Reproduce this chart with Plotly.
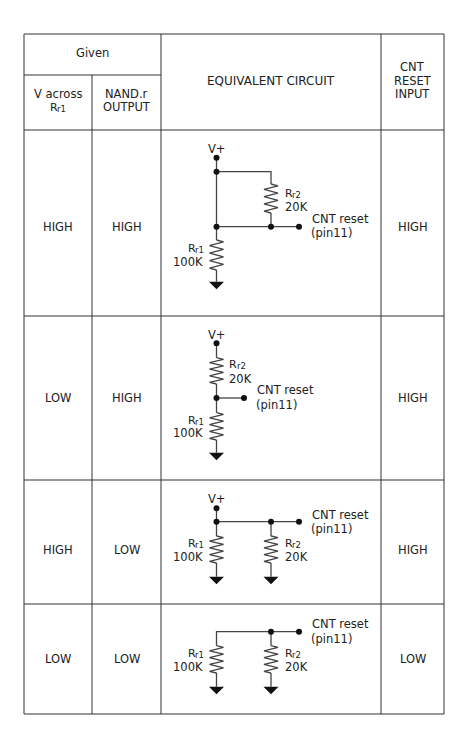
import plotly.graph_objects as go

# table contents
header_given = 'Given'
header_cols = ['V across', 'NAND.r']
header_cols2 = ['', 'OUTPUT']
header_circuit = 'EQUIVALENT CIRCUIT'
header_cnt = ['CNT', 'RESET', 'INPUT']
v_across = ['HIGH', 'LOW', 'HIGH', 'LOW']
nand_output = ['HIGH', 'HIGH', 'LOW', 'LOW']
cnt_input = ['HIGH', 'HIGH', 'HIGH', 'LOW']

# table grid, page pixels
col_x = [24, 92, 161, 381, 444]
row_y = [34, 75, 130, 316, 480, 604, 714]
row_mid = [227, 398, 550, 659]

FONT = 'DejaVu Sans'
INK = '#222222'
WIRE = '#444444'
LEFT_X = 216.5
RIGHT_X = 271
OUT_X = 299

fig = go.Figure()
wire_x, wire_y = [], []
res_x, res_y = [], []
dot_x, dot_y = [], []


def wire(*pts):
    for p in pts:
        wire_x.append(p[0])
        wire_y.append(p[1])
    wire_x.append(None)
    wire_y.append(None)


def resistor(x, y0, y1):
    # zigzag, four teeth each side
    n = 8
    step = (y1 - y0) / n
    res_x.append(x)
    res_y.append(y0)
    for i in range(n):
        res_x.append(x + (7 if i % 2 == 0 else -7))
        res_y.append(y0 + step * (i + 0.5))
    res_x.append(x)
    res_y.append(y1)
    res_x.append(None)
    res_y.append(None)


def dots(*pts):
    for p in pts:
        dot_x.append(p[0])
        dot_y.append(p[1])


def ground(x, y):
    fig.add_shape(type='path', path=f'M {x-7.5} {y} L {x+7.5} {y} L {x} {y+7.5} Z',
                  fillcolor='#111111', line=dict(width=0))


def label(x, y, text, anchor='center', size=11.5):
    fig.add_annotation(x=x, y=y, text=text, showarrow=False, xanchor=anchor, yanchor='middle',
                       borderpad=0, borderwidth=0,
                       font=dict(family=FONT, size=size, color=INK))


def r_name(x, y, sub):
    # R with its small index, x is the left edge
    label(x, y, 'R', 'left', 11)
    label(x + 7.5, y + 1.5, sub, 'left', 8.5)


# grid
grid_x, grid_y = [], []
for y in [row_y[0], row_y[2], row_y[3], row_y[4], row_y[5], row_y[6]]:
    grid_x += [col_x[0], col_x[4], None]
    grid_y += [y, y, None]
grid_x += [col_x[0], col_x[2], None]
grid_y += [row_y[1], row_y[1], None]
for x in [col_x[0], col_x[2], col_x[3], col_x[4]]:
    grid_x += [x, x, None]
    grid_y += [row_y[0], row_y[6], None]
grid_x += [col_x[1], col_x[1], None]
grid_y += [row_y[1], row_y[6], None]

# circuit 1
wire((LEFT_X, 157.7), (LEFT_X, 240))
wire((LEFT_X, 171.7), (RIGHT_X, 171.7), (RIGHT_X, 184))
wire((RIGHT_X, 213), (RIGHT_X, 226.7))
wire((LEFT_X, 226.7), (OUT_X, 226.7))
wire((LEFT_X, 270), (LEFT_X, 281.7))
resistor(RIGHT_X, 184, 213)
resistor(LEFT_X, 240, 270)
ground(LEFT_X, 281.7)
dots((LEFT_X, 157.7), (LEFT_X, 171.7), (LEFT_X, 226.7), (RIGHT_X, 226.7), (OUT_X, 226.7))
label(LEFT_X, 148.5, 'V+')
r_name(284.5, 193.3, 'r2')
label(284.5, 207.3, '20K', 'left')
r_name(187.5, 248, 'r1')
label(203, 262, '100K', 'right')
label(312, 219, 'CNT reset', 'left')
label(311, 233, '(pin11)', 'left')

# circuit 2
wire((LEFT_X, 343.3), (LEFT_X, 357.7))
wire((LEFT_X, 384), (LEFT_X, 412.7))
wire((LEFT_X, 398), (244, 398))
wire((LEFT_X, 440), (LEFT_X, 452.7))
resistor(LEFT_X, 357.7, 384)
resistor(LEFT_X, 412.7, 440)
ground(LEFT_X, 452.7)
dots((LEFT_X, 343.3), (LEFT_X, 398), (244, 398))
label(LEFT_X, 334.5, 'V+')
r_name(229, 364.3, 'r2')
label(229, 378.7, '20K', 'left')
r_name(187.5, 420, 'r1')
label(203, 433.3, '100K', 'right')
label(257, 390, 'CNT reset', 'left')
label(256, 405, '(pin11)', 'left')

# circuit 3
wire((LEFT_X, 508.3), (LEFT_X, 536))
wire((LEFT_X, 521.7), (OUT_X, 521.7))
wire((RIGHT_X, 521.7), (RIGHT_X, 536))
wire((LEFT_X, 563), (LEFT_X, 576.7))
wire((RIGHT_X, 563), (RIGHT_X, 576.7))
resistor(LEFT_X, 536, 563)
resistor(RIGHT_X, 536, 563)
ground(LEFT_X, 576.7)
ground(RIGHT_X, 576.7)
dots((LEFT_X, 508.3), (LEFT_X, 521.7), (RIGHT_X, 521.7), (OUT_X, 521.7))
label(LEFT_X, 498.5, 'V+')
r_name(187.5, 543.3, 'r1')
label(203, 557.3, '100K', 'right')
r_name(284.5, 543.3, 'r2')
label(284.5, 557.3, '20K', 'left')
label(312, 515, 'CNT reset', 'left')
label(311, 529, '(pin11)', 'left')

# circuit 4
wire((LEFT_X, 645.7), (LEFT_X, 631.7), (OUT_X, 631.7))
wire((RIGHT_X, 631.7), (RIGHT_X, 645.7))
wire((LEFT_X, 673), (LEFT_X, 686.7))
wire((RIGHT_X, 673), (RIGHT_X, 686.7))
resistor(LEFT_X, 645.7, 673)
resistor(RIGHT_X, 645.7, 673)
ground(LEFT_X, 686.7)
ground(RIGHT_X, 686.7)
dots((RIGHT_X, 631.7), (OUT_X, 631.7))
r_name(187.5, 653.3, 'r1')
label(203, 667.3, '100K', 'right')
r_name(284.5, 653.3, 'r2')
label(284.5, 667.3, '20K', 'left')
label(312, 624, 'CNT reset', 'left')
label(311, 639, '(pin11)', 'left')

fig.add_trace(go.Scatter(x=grid_x, y=grid_y, mode='lines', line=dict(color='#333333', width=1), hoverinfo='skip'))
fig.add_trace(go.Scatter(x=wire_x, y=wire_y, mode='lines', line=dict(color=WIRE, width=1.3), hoverinfo='skip'))
fig.add_trace(go.Scatter(x=res_x, y=res_y, mode='lines', line=dict(color=WIRE, width=1.3), hoverinfo='skip'))
fig.add_trace(go.Scatter(x=dot_x, y=dot_y, mode='markers', marker=dict(color='#111111', size=6), hoverinfo='skip'))

# header text
label(92.5, 53, header_given)
col_mid = [58, 126.5]
for mid, top, bottom in zip(col_mid, header_cols, header_cols2):
    label(mid, 94, top)
    if bottom:
        label(mid, 107, bottom)
r_name(49.5, 107.5, 'r1')
label(271, 81, header_circuit, size=12)
for y, txt in zip([67, 81, 94], header_cnt):
    label(412.5, y, txt)

# body text
for i, y in enumerate(row_mid):
    label(col_mid[0], y, v_across[i])
    label(col_mid[1], y, nand_output[i])
    label(412.5, y, cnt_input[i])

fig.update_layout(width=474, height=739, margin=dict(l=0, r=0, t=0, b=0), showlegend=False,
                  plot_bgcolor='white', paper_bgcolor='white')
fig.update_xaxes(range=[0, 474], visible=False, fixedrange=True)
fig.update_yaxes(range=[739, 0], visible=False, fixedrange=True)
fig.write_html('out.html', config=dict(displayModeBar=False), post_script="document.body.style.margin='0';")
